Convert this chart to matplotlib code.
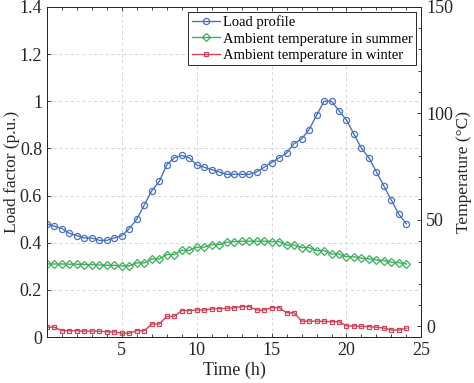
import numpy as np
import matplotlib.pyplot as plt
from matplotlib.ticker import MultipleLocator

plt.rcParams['font.family'] = ['Liberation Serif', 'DejaVu Serif']

# time of day (h), half-hour steps
hours = [0, 0.5, 1, 1.5, 2, 2.5, 3, 3.5, 4, 4.5, 5, 5.5, 6, 6.5, 7, 7.5, 8, 8.5,
         9, 9.5, 10, 10.5, 11, 11.5, 12, 12.5, 13, 13.5, 14, 14.5, 15, 15.5, 16,
         16.5, 17, 17.5, 18, 18.5, 19, 19.5, 20, 20.5, 21, 21.5, 22, 22.5, 23,
         23.5, 24]

# load factor (p.u.)
load = [0.48, 0.47, 0.46, 0.44, 0.43, 0.42, 0.42, 0.41, 0.41, 0.42, 0.43, 0.46,
        0.50, 0.56, 0.62, 0.66, 0.73, 0.76, 0.77, 0.76, 0.73, 0.72, 0.71, 0.70,
        0.69, 0.69, 0.69, 0.69, 0.70, 0.72, 0.74, 0.76, 0.78, 0.82, 0.84, 0.88,
        0.94, 1.00, 1.00, 0.96, 0.92, 0.86, 0.80, 0.76, 0.70, 0.64, 0.58, 0.52,
        0.48]

# ambient temperature (degC)
summer = [29.3, 29.3, 29.3, 29.2, 29.2, 29.0, 29.0, 28.8, 28.7, 28.7, 28.4, 28.4,
          29.8, 29.8, 31.7, 31.7, 33.7, 33.7, 35.7, 35.7, 37.2, 37.2, 38.4, 38.4,
          39.5, 39.8, 40.0, 40.0, 40.0, 40.0, 39.8, 39.8, 38.2, 38.2, 37.0, 37.0,
          35.6, 35.6, 34.0, 34.0, 32.7, 32.7, 32.0, 31.7, 31.2, 30.9, 30.1, 29.9,
          29.3]

winter = [-0.4, -0.4, -2.0, -2.0, -2.0, -2.2, -2.2, -2.3, -2.5, -2.6, -3.2, -3.2,
          -2.0, -2.0, 1.1, 1.1, 4.7, 4.7, 7.4, 7.4, 7.7, 7.7, 8.2, 8.3,
          8.5, 8.8, 9.3, 9.3, 7.7, 7.7, 8.8, 8.8, 6.4, 6.4, 2.5, 2.5,
          2.4, 2.4, 2.2, 2.2, 0.2, 0.2, 0.0, -0.1, -0.4, -0.8, -1.7, -1.7,
          -0.9]

c_blue = '#4a72c0'
c_green = '#3fae5e'
c_red = '#d0455a'
axcol = '#262626'

fig = plt.figure(figsize=(4.74, 3.83), dpi=100)
ax = fig.add_axes([0.099, 0.120, 0.790, 0.862])
ax2 = ax.twinx()

l1, = ax.plot(hours, load, '-o', color=c_blue, lw=1.0, ms=4.4, mfc='none',
              mew=0.9, label='Load profile')
l2, = ax2.plot(hours, summer, '-D', color=c_green, lw=1.0, ms=3.8, mfc='none',
               mew=0.9, label='Ambient temperature in summer')
l3, = ax2.plot(hours, winter, '-s', color=c_red, lw=1.0, ms=3.2, mfc='none',
               mew=0.9, label='Ambient temperature in winter')

ax.set_xlim(0, 25)
ax.set_ylim(0, 1.4)
ax2.set_ylim(-5, 150)

ax.xaxis.set_minor_locator(MultipleLocator(1))
ax.set_xticks([5, 10, 15, 20, 25])
ax.set_yticks([0, 0.2, 0.4, 0.6, 0.8, 1, 1.2, 1.4])
ax.set_yticklabels(['0', '0.2', '0.4', '0.6', '0.8', '1', '1.2', '1.4'])
ax2.set_yticks([0, 50, 100, 150])
ax2.yaxis.set_minor_locator(MultipleLocator(10))

ax.grid(True, which='major', ls=(0, (3, 3)), color='#d4d4d4', lw=0.7)
ax.set_axisbelow(True)

ax.tick_params(axis='both', which='both', direction='in', labelsize=13,
               colors=axcol, top=True, right=False, length=3, width=0.6)
ax.tick_params(axis='x', which='minor', length=2)
ax2.tick_params(axis='y', which='both', direction='in', labelsize=13,
                colors=axcol, length=3, width=0.6)
ax2.tick_params(axis='y', which='minor', length=2)

for a in (ax, ax2):
    for s in a.spines.values():
        s.set_color(axcol)
        s.set_linewidth(0.7)

ax.set_xlabel('Time (h)', fontsize=13, color=axcol, labelpad=2)
ax.set_ylabel('Load factor (p.u.)', fontsize=12.5, color=axcol, labelpad=0)
ax2.set_ylabel('Temperature (°C)', fontsize=12.5, color=axcol, labelpad=2)

leg = ax2.legend(handles=[l1, l2, l3], loc='upper right', fontsize=10.5,
                 frameon=True, fancybox=False, framealpha=1,
                 edgecolor=axcol, borderaxespad=0.35, handlelength=1.9,
                 handletextpad=0.2, labelspacing=0.2, borderpad=0.25)
leg.get_frame().set_linewidth(0.7)

fig.savefig('out.png', dpi=100)
